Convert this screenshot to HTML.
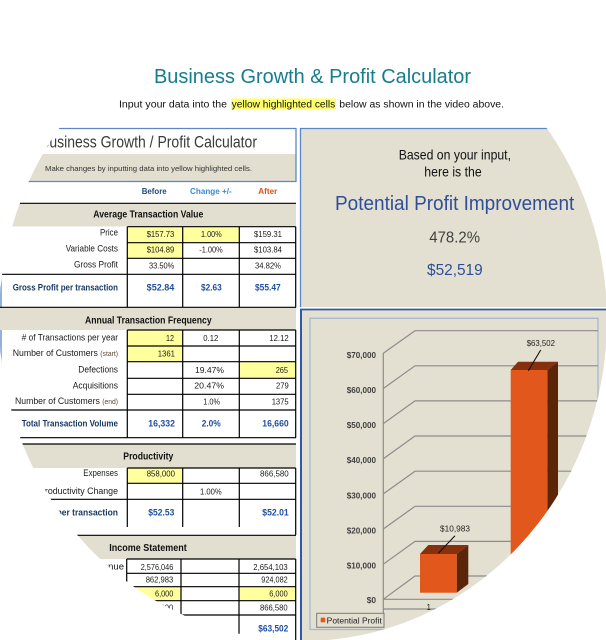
<!DOCTYPE html>
<html><head><meta charset="utf-8"><style>
html,body{margin:0;padding:0;background:#fff;}
svg{display:block;}
text{font-family:"Liberation Sans",Arial,sans-serif;}
</style></head><body>
<svg width="606" height="640" viewBox="0 0 606 640" xmlns="http://www.w3.org/2000/svg">
<defs><clipPath id="c"><ellipse cx="303" cy="320" rx="304" ry="321"/></clipPath></defs>
<rect width="606" height="640" fill="#fff"/>
<g clip-path="url(#c)">
<!-- Header -->
<text x="154" y="83" font-size="20" fill="#177d8d" textLength="317" lengthAdjust="spacingAndGlyphs">Business Growth &amp; Profit Calculator</text>
<rect x="231" y="98.5" width="105" height="11" fill="#ffff66"/>
<text x="119" y="107.3" font-size="10" fill="#111" textLength="108" lengthAdjust="spacingAndGlyphs">Input your data into the</text>
<text x="231.7" y="107.3" font-size="10" fill="#111" textLength="103.5" lengthAdjust="spacingAndGlyphs">yellow highlighted cells</text>
<text x="339.3" y="107.3" font-size="10" fill="#111" textLength="164.7" lengthAdjust="spacingAndGlyphs">below as shown in the video above.</text>

<!-- Left panel header -->
<text x="40" y="147.3" font-size="17" fill="#3a3a3a" textLength="217" lengthAdjust="spacingAndGlyphs">Business Growth / Profit Calculator</text>
<rect x="0" y="154" width="296" height="27.5" fill="#e2dfd0"/>
<text x="45" y="171" font-size="7.5" fill="#333" textLength="207" lengthAdjust="spacingAndGlyphs">Make changes by inputting data into yellow highlighted cells.</text>
<g stroke="#5b87c7" stroke-width="1.3" fill="none">
<line x1="0" y1="128.5" x2="296" y2="128.5"/>
<line x1="296" y1="128" x2="296" y2="182"/>
<line x1="0" y1="181.5" x2="296" y2="181.5"/>
<line x1="1" y1="128" x2="1" y2="640"/>
</g>
<text x="141.7" y="194" font-size="8.5" font-weight="bold" fill="#1f497d" textLength="25" lengthAdjust="spacingAndGlyphs">Before</text>
<text x="190" y="194" font-size="8.5" font-weight="bold" fill="#3a8ad8" textLength="41.7" lengthAdjust="spacingAndGlyphs">Change +/-</text>
<text x="258.3" y="194" font-size="8.5" font-weight="bold" fill="#d9501a" textLength="19" lengthAdjust="spacingAndGlyphs">After</text>

<!-- bands -->
<g fill="#e2dfd0">
<rect x="0" y="203.8" width="296" height="22.7"/>
<rect x="0" y="307.8" width="296" height="22.2"/>
<rect x="0" y="444.5" width="296" height="23.5"/>
<rect x="0" y="535.8" width="296" height="23.3"/>
</g>
<!-- yellow cells -->
<g fill="#ffff9e">
<rect x="127.3" y="226.7" width="55.4" height="16"/>
<rect x="182.7" y="226.7" width="56.6" height="16"/>
<rect x="127.3" y="242.7" width="55.4" height="15.6"/>
<rect x="127.3" y="330" width="55.4" height="16"/>
<rect x="127.3" y="346" width="55.4" height="15.7"/>
<rect x="239.3" y="361.7" width="56.4" height="16.6"/>
<rect x="127.3" y="468" width="55.4" height="15.3"/>
<rect x="127" y="586.7" width="54" height="14"/>
<rect x="239" y="586.7" width="56.7" height="14"/>
</g>
<!-- table lines -->
<g stroke="#000" stroke-width="1.2" fill="none">
<line x1="0" y1="203.3" x2="296" y2="203.3"/>
<line x1="127.3" y1="226.7" x2="295.7" y2="226.7"/>
<line x1="127.3" y1="242.7" x2="295.7" y2="242.7"/>
<line x1="127.3" y1="258.3" x2="295.7" y2="258.3"/>
<line x1="0" y1="274.3" x2="296" y2="274.3"/>
<line x1="0" y1="307.3" x2="296" y2="307.3"/>
<line x1="127.3" y1="226.7" x2="127.3" y2="307.3"/>
<line x1="182.7" y1="226.7" x2="182.7" y2="307.3"/>
<line x1="239.3" y1="226.7" x2="239.3" y2="307.3"/>
<line x1="295.7" y1="226.7" x2="295.7" y2="307.3"/>

<line x1="127.3" y1="330" x2="295.7" y2="330"/>
<line x1="127.3" y1="346" x2="295.7" y2="346"/>
<line x1="127.3" y1="361.7" x2="295.7" y2="361.7"/>
<line x1="127.3" y1="378.3" x2="295.7" y2="378.3"/>
<line x1="127.3" y1="394.3" x2="295.7" y2="394.3"/>
<line x1="0" y1="410" x2="296" y2="410"/>
<line x1="0" y1="437.7" x2="296" y2="437.7"/>
<line x1="127.3" y1="330" x2="127.3" y2="437.7"/>
<line x1="182.7" y1="330" x2="182.7" y2="437.7"/>
<line x1="239.3" y1="330" x2="239.3" y2="437.7"/>
<line x1="295.7" y1="330" x2="295.7" y2="437.7"/>

<line x1="0" y1="444" x2="296" y2="444"/>
<line x1="127.3" y1="468" x2="295.7" y2="468"/>
<line x1="127.3" y1="483.3" x2="295.7" y2="483.3"/>
<line x1="0" y1="499.3" x2="296" y2="499.3"/>
<line x1="127.3" y1="468" x2="127.3" y2="527"/>
<line x1="182.7" y1="468" x2="182.7" y2="527"/>
<line x1="239.3" y1="468" x2="239.3" y2="527"/>
<line x1="295.7" y1="468" x2="295.7" y2="535"/>

<line x1="0" y1="535.3" x2="296" y2="535.3"/>
<line x1="126.7" y1="559" x2="295.7" y2="559"/>
<line x1="126.7" y1="573.3" x2="295.7" y2="573.3"/>
<line x1="126.7" y1="586.7" x2="295.7" y2="586.7"/>
<line x1="126.7" y1="600.7" x2="295.7" y2="600.7"/>
<line x1="126.7" y1="615" x2="295.7" y2="615"/>
<line x1="126.7" y1="559" x2="126.7" y2="640"/>
<line x1="181" y1="559" x2="181" y2="615"/>
<line x1="239" y1="559" x2="239" y2="640"/>
<line x1="295.7" y1="559" x2="295.7" y2="640"/>
</g>

<!-- band titles -->
<g font-size="10" font-weight="bold" fill="#111">
<text x="93.3" y="217.7" textLength="110" lengthAdjust="spacingAndGlyphs">Average Transaction Value</text>
<text x="85" y="323.3" textLength="126.7" lengthAdjust="spacingAndGlyphs">Annual Transaction Frequency</text>
<text x="123.3" y="459.3" textLength="50" lengthAdjust="spacingAndGlyphs">Productivity</text>
<text x="109.3" y="551" textLength="77.4" lengthAdjust="spacingAndGlyphs">Income Statement</text>
</g>

<!-- labels -->
<g font-size="9" fill="#1a1a1a">
<text x="100" y="235.7" textLength="18" lengthAdjust="spacingAndGlyphs">Price</text>
<text x="65.7" y="251.7" textLength="52.3" lengthAdjust="spacingAndGlyphs">Variable Costs</text>
<text x="74" y="267.3" textLength="44" lengthAdjust="spacingAndGlyphs">Gross Profit</text>
<text x="21.7" y="340.7" textLength="96.3" lengthAdjust="spacingAndGlyphs"># of Transactions per year</text>
<text x="12.7" y="356" textLength="105.3" lengthAdjust="spacingAndGlyphs">Number of Customers <tspan font-size="7" fill="#5a4a3a">(start)</tspan></text>
<text x="78.3" y="372.7" textLength="39.7" lengthAdjust="spacingAndGlyphs">Defections</text>
<text x="72.7" y="388.3" textLength="45.3" lengthAdjust="spacingAndGlyphs">Acquisitions</text>
<text x="15" y="404" textLength="103" lengthAdjust="spacingAndGlyphs">Number of Customers <tspan font-size="7" fill="#5a4a3a">(end)</tspan></text>
<text x="83.3" y="476" textLength="34.7" lengthAdjust="spacingAndGlyphs">Expenses</text>
<text x="39" y="494" textLength="79" lengthAdjust="spacingAndGlyphs">Productivity Change</text>
<text x="86" y="569.5" textLength="38" lengthAdjust="spacingAndGlyphs">Revenue</text>
</g>
<g font-size="9" font-weight="bold" fill="#17375e">
<text x="12.7" y="290.7" textLength="105.3" lengthAdjust="spacingAndGlyphs">Gross Profit per transaction</text>
<text x="21.7" y="426.7" textLength="96.3" lengthAdjust="spacingAndGlyphs">Total Transaction Volume</text>
<text x="32" y="515.7" textLength="86" lengthAdjust="spacingAndGlyphs">Profit per transaction</text>
</g>

<!-- values -->
<g font-size="8.5" fill="#1a1a1a">
<text x="146.7" y="237" textLength="27.6" lengthAdjust="spacingAndGlyphs">$157.73</text>
<text x="201" y="237" textLength="20.7" lengthAdjust="spacingAndGlyphs">1.00%</text>
<text x="254" y="237" textLength="28" lengthAdjust="spacingAndGlyphs">$159.31</text>
<text x="146.7" y="252.7" textLength="27.6" lengthAdjust="spacingAndGlyphs">$104.89</text>
<text x="199.3" y="252.7" textLength="23.4" lengthAdjust="spacingAndGlyphs">-1.00%</text>
<text x="254" y="252.7" textLength="28" lengthAdjust="spacingAndGlyphs">$103.84</text>
<text x="149" y="268.3" textLength="25.3" lengthAdjust="spacingAndGlyphs">33.50%</text>
<text x="255" y="268.3" textLength="26" lengthAdjust="spacingAndGlyphs">34.82%</text>

<text x="166" y="341" textLength="8" lengthAdjust="spacingAndGlyphs">12</text>
<text x="203.3" y="341" textLength="15" lengthAdjust="spacingAndGlyphs">0.12</text>
<text x="269.3" y="341" textLength="19.4" lengthAdjust="spacingAndGlyphs">12.12</text>
<text x="157.7" y="356.5" textLength="17.3" lengthAdjust="spacingAndGlyphs">1361</text>
<text x="195" y="373" textLength="29" lengthAdjust="spacingAndGlyphs">19.47%</text>
<text x="275.7" y="373" textLength="12.3" lengthAdjust="spacingAndGlyphs">265</text>
<text x="194.3" y="388.7" textLength="29.7" lengthAdjust="spacingAndGlyphs">20.47%</text>
<text x="276" y="388.7" textLength="12.7" lengthAdjust="spacingAndGlyphs">279</text>
<text x="203.3" y="404.5" textLength="16.7" lengthAdjust="spacingAndGlyphs">1.0%</text>
<text x="271.7" y="404.5" textLength="17" lengthAdjust="spacingAndGlyphs">1375</text>

<text x="146.7" y="476.3" textLength="28.3" lengthAdjust="spacingAndGlyphs">858,000</text>
<text x="260" y="476.3" textLength="28.7" lengthAdjust="spacingAndGlyphs">866,580</text>
<text x="200" y="494.3" textLength="21.7" lengthAdjust="spacingAndGlyphs">1.00%</text>

<text x="140.7" y="570" textLength="32.6" lengthAdjust="spacingAndGlyphs">2,576,046</text>
<text x="253.3" y="570" textLength="34.4" lengthAdjust="spacingAndGlyphs">2,654,103</text>
<text x="145.7" y="582.5" textLength="27.6" lengthAdjust="spacingAndGlyphs">862,983</text>
<text x="261.3" y="582.5" textLength="26.4" lengthAdjust="spacingAndGlyphs">924,082</text>
<text x="155" y="596.5" textLength="18.3" lengthAdjust="spacingAndGlyphs">6,000</text>
<text x="269.3" y="596.5" textLength="18.4" lengthAdjust="spacingAndGlyphs">6,000</text>
<text x="145.7" y="610.5" textLength="27.6" lengthAdjust="spacingAndGlyphs">858,000</text>
<text x="260" y="610.5" textLength="27.7" lengthAdjust="spacingAndGlyphs">866,580</text>
</g>
<g font-size="9" font-weight="bold" fill="#1f4fa0">
<text x="146.7" y="290.7" textLength="27.6" lengthAdjust="spacingAndGlyphs">$52.84</text>
<text x="201" y="290.7" textLength="20.7" lengthAdjust="spacingAndGlyphs">$2.63</text>
<text x="255" y="290.7" textLength="25.7" lengthAdjust="spacingAndGlyphs">$55.47</text>
<text x="148.3" y="426.7" textLength="26.7" lengthAdjust="spacingAndGlyphs">16,332</text>
<text x="201.7" y="426.7" textLength="19" lengthAdjust="spacingAndGlyphs">2.0%</text>
<text x="262.3" y="426.7" textLength="26.4" lengthAdjust="spacingAndGlyphs">16,660</text>
<text x="148.3" y="515.7" textLength="26" lengthAdjust="spacingAndGlyphs">$52.53</text>
<text x="262.3" y="515.7" textLength="26.4" lengthAdjust="spacingAndGlyphs">$52.01</text>
<text x="258.3" y="631.7" textLength="30" lengthAdjust="spacingAndGlyphs">$63,502</text>
</g>

<!-- Right upper panel -->
<rect x="300" y="128" width="306" height="179" fill="#e3e0d1"/>
<line x1="300" y1="128.5" x2="606" y2="128.5" stroke="#5b87c7" stroke-width="1.3"/>
<line x1="300.5" y1="128" x2="300.5" y2="307" stroke="#5b87c7" stroke-width="1.3"/>
<text x="398.7" y="159.3" font-size="14" fill="#111" textLength="112.3" lengthAdjust="spacingAndGlyphs">Based on your input,</text>
<text x="424.3" y="176.7" font-size="14" fill="#111" textLength="57.4" lengthAdjust="spacingAndGlyphs">here is the</text>
<text x="335" y="210" font-size="20" fill="#2e4e9a" textLength="239.3" lengthAdjust="spacingAndGlyphs">Potential Profit Improvement</text>
<text x="429.3" y="242.7" font-size="15.5" fill="#404040" textLength="50.7" lengthAdjust="spacingAndGlyphs">478.2%</text>
<text x="427" y="275" font-size="15.5" fill="#2e4e9a" textLength="55.7" lengthAdjust="spacingAndGlyphs">$52,519</text>

<!-- Chart panel -->
<rect x="300" y="309" width="306" height="331" fill="#e3e0d1"/>
<line x1="300" y1="309.5" x2="606" y2="309.5" stroke="#2c5aa8" stroke-width="1.8"/>
<line x1="301" y1="309" x2="301" y2="640" stroke="#2c5aa8" stroke-width="2"/>
<rect x="310" y="318.3" width="288" height="311.2" fill="none" stroke="#a5b8d0" stroke-width="1.3"/>

<!-- gridlines -->
<g stroke="#8c8c8c" stroke-width="1.2" fill="none">
<polyline points="383.3,353.3 415,330.7 598,330.7"/>
<polyline points="383.3,388.5 415,365.8 598,365.8"/>
<polyline points="383.3,423.6 415,400.9 598,400.9"/>
<polyline points="383.3,458.7 415,436 598,436"/>
<polyline points="383.3,493.9 415,471.2 598,471.2"/>
<polyline points="383.3,529 415,506.3 598,506.3"/>
<polyline points="383.3,564.2 415,541.4 598,541.4"/>
<polyline points="383.3,599.3 415,576 598,576"/>
<line x1="383.3" y1="599.3" x2="598" y2="599.3"/>
<line x1="383.3" y1="609" x2="598" y2="609"/>
<line x1="383.3" y1="353" x2="383.3" y2="627.5"/>
</g>
<g font-size="8.5" font-weight="bold" fill="#404040" text-anchor="end">
<text x="376" y="358" textLength="29.3" lengthAdjust="spacingAndGlyphs">$70,000</text>
<text x="376" y="393" textLength="29.3" lengthAdjust="spacingAndGlyphs">$60,000</text>
<text x="376" y="428" textLength="29.3" lengthAdjust="spacingAndGlyphs">$50,000</text>
<text x="376" y="463" textLength="29.3" lengthAdjust="spacingAndGlyphs">$40,000</text>
<text x="376" y="498.3" textLength="29.3" lengthAdjust="spacingAndGlyphs">$30,000</text>
<text x="376" y="533.4" textLength="29.3" lengthAdjust="spacingAndGlyphs">$20,000</text>
<text x="376" y="568.5" textLength="29.3" lengthAdjust="spacingAndGlyphs">$10,000</text>
<text x="376" y="603" textLength="9.3" lengthAdjust="spacingAndGlyphs">$0</text>
</g>
<text x="426.5" y="610" font-size="8" fill="#222">1</text>

<!-- bars -->
<polygon points="420,554 456.7,554 468.3,545 428.3,545" fill="#86300e"/>
<polygon points="456.7,554 468.3,545 468.3,584 456.7,592.7" fill="#5a2509"/>
<rect x="420" y="554" width="36.7" height="38.7" fill="#e2571b"/>
<polygon points="510.7,370 547.3,370 558,361.7 518,361.7" fill="#86300e"/>
<polygon points="547.3,370 558,361.7 558,585 547.3,593.5" fill="#5a2509"/>
<rect x="510.7" y="370" width="36.6" height="223.5" fill="#e2571b"/>

<g stroke="#111" stroke-width="1.1">
<line x1="455" y1="535.7" x2="438.3" y2="553.3"/>
<line x1="540.7" y1="350" x2="528.3" y2="370.7"/>
</g>
<text x="440" y="531.7" font-size="8.5" fill="#222" textLength="30" lengthAdjust="spacingAndGlyphs">$10,983</text>
<text x="526.7" y="346" font-size="8.5" fill="#222" textLength="28.3" lengthAdjust="spacingAndGlyphs">$63,502</text>

<!-- legend -->
<rect x="316.7" y="613.3" width="67.3" height="14" fill="#e3e0d1" stroke="#7a7a7a" stroke-width="1"/>
<rect x="320.7" y="617.7" width="4.5" height="4.6" fill="#e2571b"/>
<text x="326.7" y="623.3" font-size="8" fill="#222" textLength="55" lengthAdjust="spacingAndGlyphs">Potential Profit</text>
</g>
</svg>
</body></html>
